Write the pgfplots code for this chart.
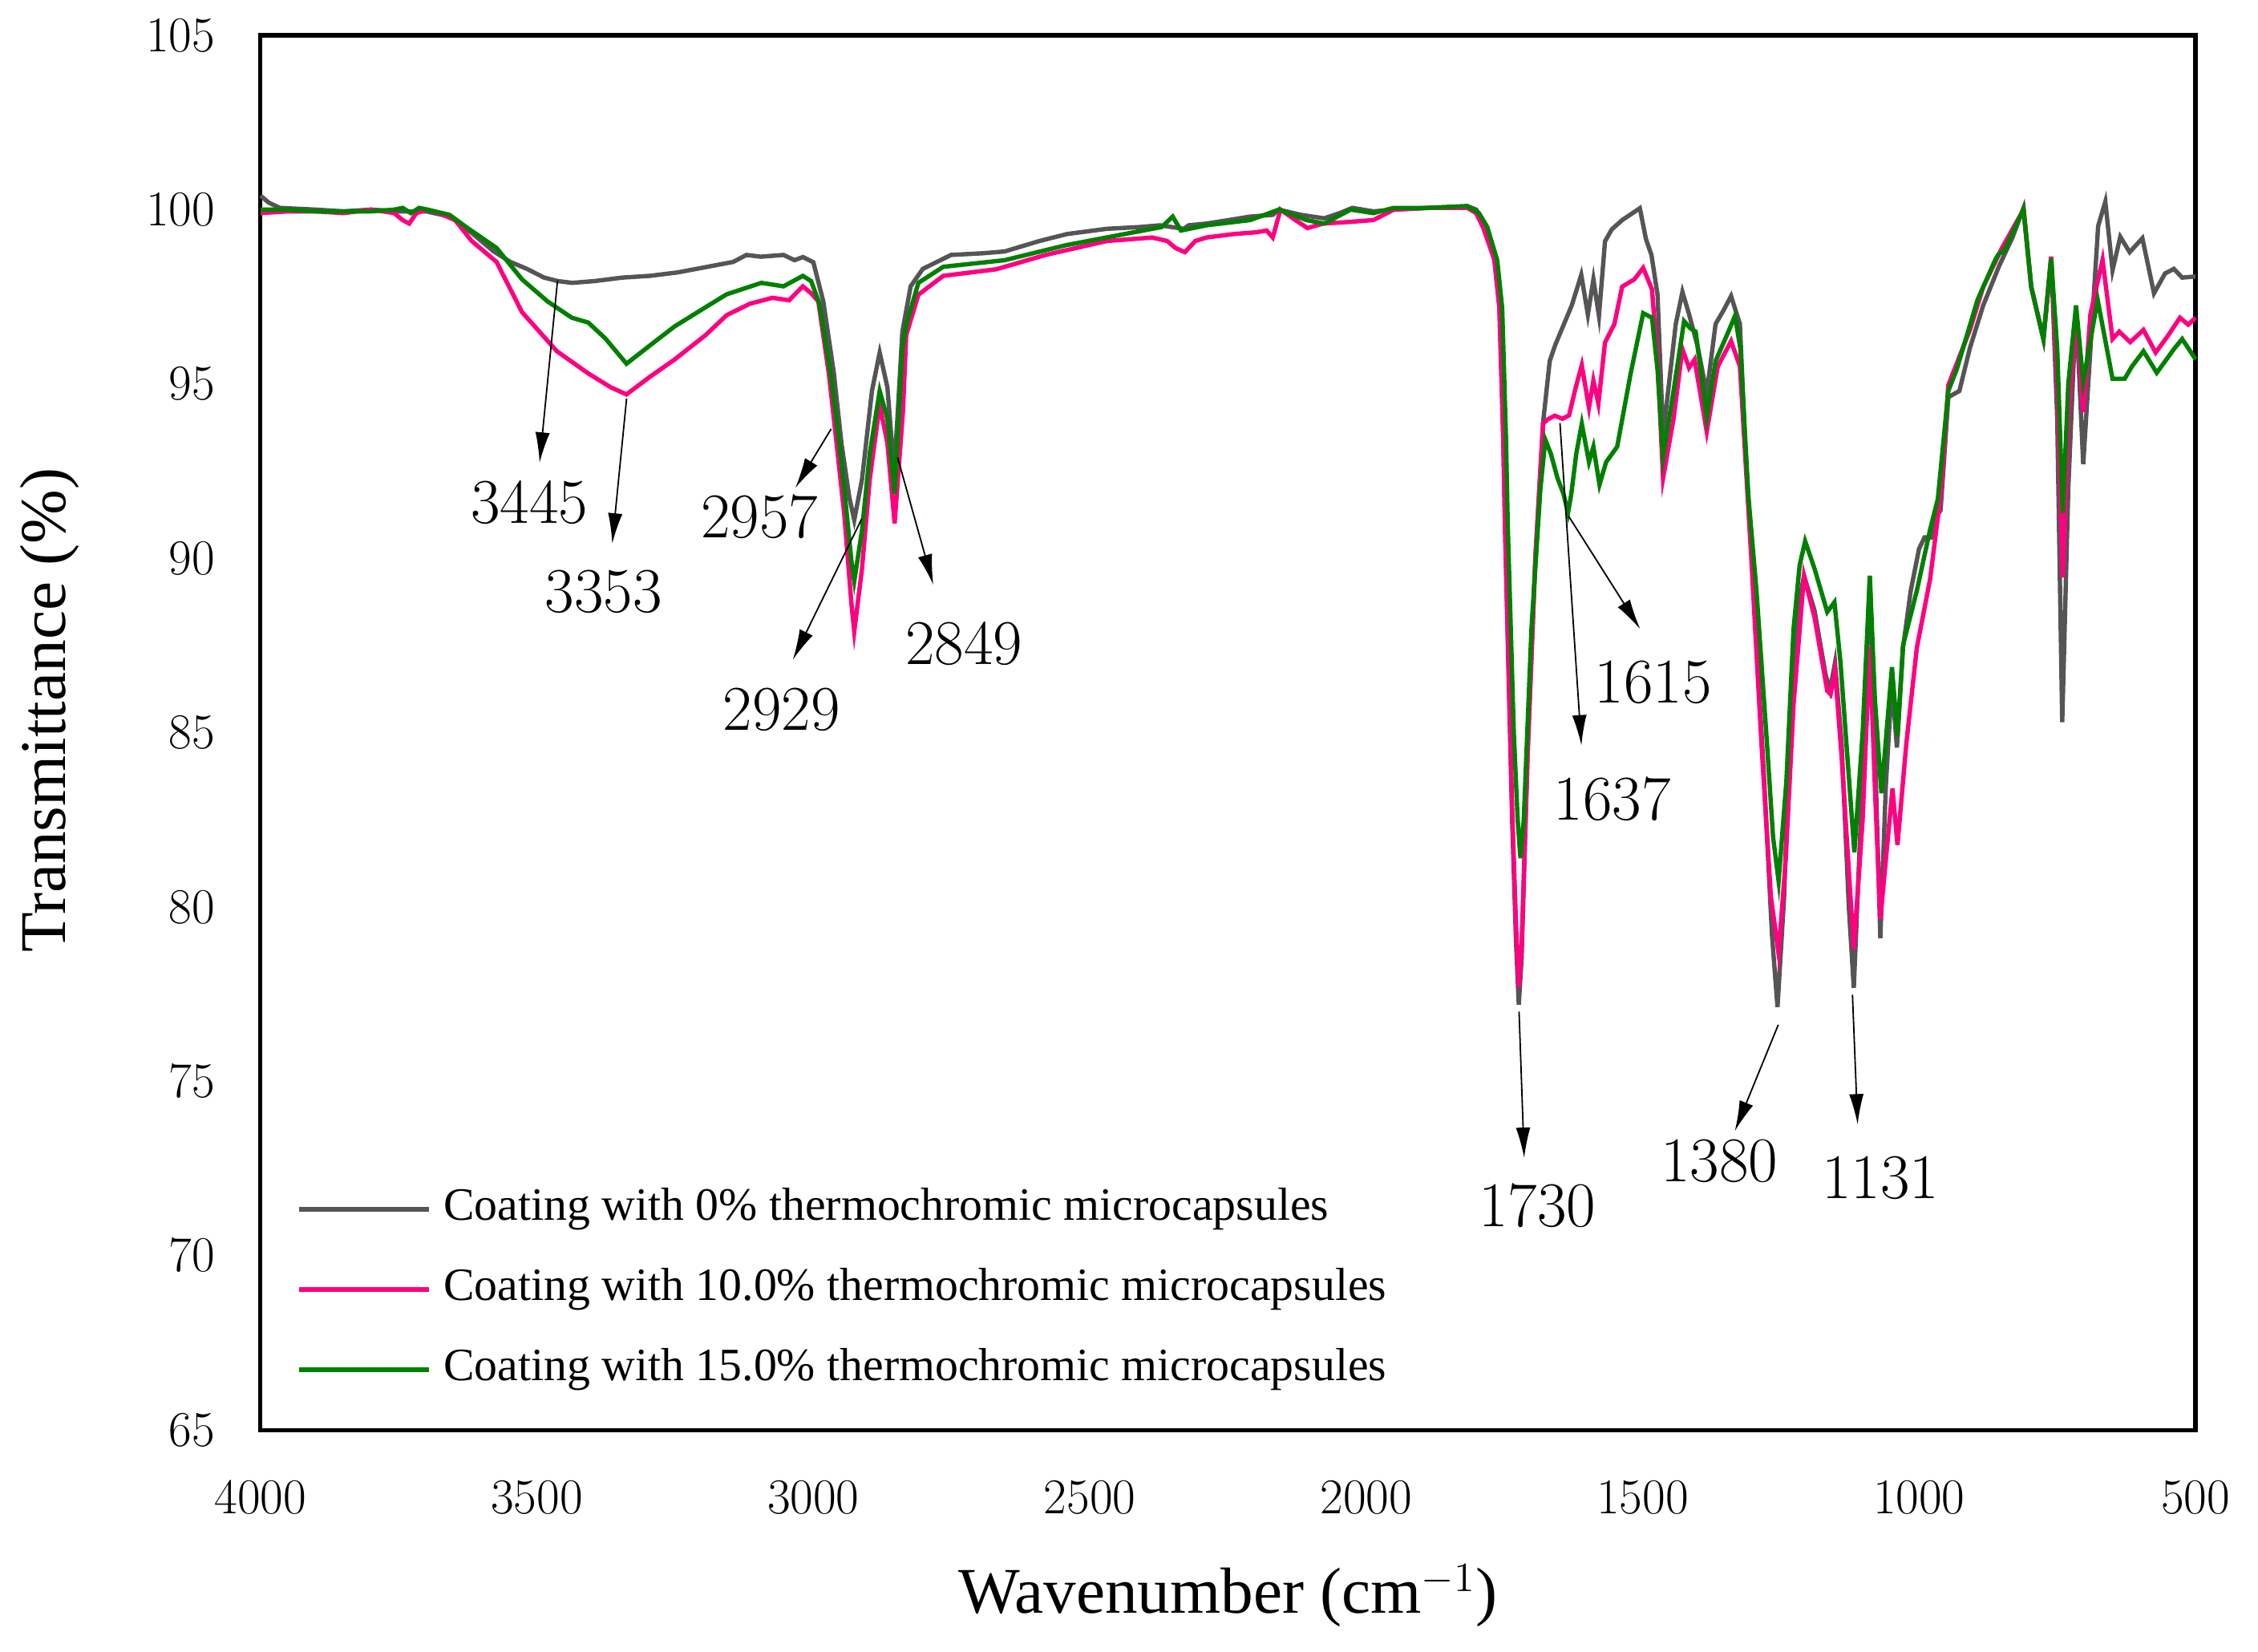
\documentclass[border=0pt]{standalone}
\usepackage{pgfplots}
\pgfplotsset{compat=1.18}
\usepackage{fontspec}
\newfontfamily\tnr{Liberation Serif}
\usetikzlibrary{arrows.meta}
\definecolor{cgray}{RGB}{85,85,85}
\definecolor{cpink}{RGB}{255,0,128}
\definecolor{cgreen}{RGB}{0,128,0}
\begin{document}
\begin{tikzpicture}
\begin{axis}[
  scale only axis, width=668.4pt, height=481.7pt,
  x dir=reverse, xmin=500, xmax=4000, ymin=65, ymax=105,
  xtick={500,1000,...,4000}, ytick={65,70,...,105},
  major tick length=0pt,
  axis line style={line width=1.4pt},
  clip=false,
  /pgf/number format/set thousands separator={},
  xticklabel style={font=\fontsize{18}{18}\selectfont, anchor=north, inner sep=0pt, yshift=-17.6pt},
  yticklabel style={font=\fontsize{18}{18}\selectfont, anchor=east, inner sep=0pt, xshift=-15.5pt},
  xlabel={Wavenumber (cm$^{-1}$)},
  ylabel={Transmittance (\%)},
  xlabel style={font=\fontsize{22.5}{27}\tnr, at={(axis description cs:0.5,-0.1312)}, anchor=base},
  ylabel style={font=\fontsize{22.5}{27}\tnr, at={(axis description cs:-0.1088,0.516)}, anchor=center},
  legend image code/.code={\draw[#1,line width=1.5pt] (0pt,0pt) -- (44.9pt,0pt);},
  legend cell align=left,
  legend style={draw=none, fill=none, inner sep=0pt, outer sep=0pt,
    at={(axis description cs:0.0187,0.028)}, anchor=south west,
    font=\fontsize{16}{19}\tnr, column sep=4.4pt, row sep=13.2pt,
    nodes={inner sep=0pt, text height=11pt, text depth=3.5pt}},
]
\coordinate (sw) at (axis description cs:0,0);
\coordinate (ne) at (axis description cs:1,1);
\addplot[cgray, line width=1.5pt] coordinates {
(4000,100.4) (3985,100.2) (3965,100.05) (3900,100.0) (3850,99.95) (3800,100.0) (3750,99.95) (3700,99.95)
(3658,99.8) (3638,99.6) (3608,99.2) (3578,98.8) (3548,98.5) (3518,98.3) (3487,98.05) (3462,97.95)
(3436,97.9) (3396,97.95) (3346,98.05) (3296,98.1) (3245,98.2) (3195,98.35) (3145,98.5) (3121,98.7)
(3095,98.65) (3054,98.7) (3034,98.55) (3019,98.64) (3000,98.49) (2982,97.37) (2963,95.32) (2949,93.28)
(2935,91.75) (2926,91.1) (2912,92.26) (2894,94.8) (2880,95.9) (2866,94.9) (2854,92.5) (2848,94.0)
(2839,96.5) (2824,97.8) (2802,98.3) (2751,98.7) (2692,98.75) (2654,98.8) (2591,99.1) (2541,99.3)
(2469,99.45) (2410,99.5) (2373,99.55) (2330,99.45) (2321,99.55) (2289,99.6) (2249,99.7) (2210,99.8)
(2169,99.85) (2158,100.0) (2118,99.85) (2076,99.75) (2048,99.9) (2025,100.05) (1987,99.95) (1950,100.0)
(1887,100.05) (1817,100.1) (1801,100.0) (1786,99.6) (1780,99.3) (1768,98.55) (1759,97.2) (1752,93.4)
(1749,91.0) (1736,82.5) (1729,79.0) (1724,77.2) (1719,78.5) (1708,84.4) (1694,90.0) (1680,93.9)
(1668,95.66) (1658,96.12) (1628,97.26) (1611,98.13) (1599,96.99) (1589,98.0) (1579,96.95) (1568,99.09)
(1556,99.43) (1537,99.7) (1505,100.04) (1494,99.16) (1484,98.7) (1473,97.56) (1463,93.52) (1440,96.72)
(1428,97.64) (1416,97.0) (1401,96.11) (1384,94.74) (1368,96.72) (1354,97.1) (1340,97.52) (1324,96.72)
(1315,93.44) (1299,89.06) (1280,83.59) (1266,79.2) (1256,77.13) (1244,80.3) (1232,85.78) (1220,88.5)
(1208,89.5) (1189,88.5) (1169,86.66) (1161,86.22) (1152,87.0) (1140,84.68) (1127,80.0) (1118,77.68)
(1104,83.0) (1089,89.5) (1080,84.68) (1070,79.1) (1060,83.5) (1049,86.44) (1040,84.57) (1029,87.43)
(1015,89.07) (1000,90.27) (990,90.6) (978,90.6) (966,91.25) (961,91.38) (947,94.62) (927,94.8)
(908,96.03) (884,97.25) (855,98.39) (831,99.2) (811,100.05) (797,97.78) (775,96.29) (761,98.65)
(750,94.0) (741,85.3) (730,92.0) (716,97.25) (703,92.7) (690,96.0) (676,99.53) (663,100.23)
(650,98.26) (636,99.22) (619,98.78) (596,99.18) (575,97.6) (555,98.17) (539,98.3) (524,98.05)
(502,98.08) (500,98.08)
};
\addlegendentry{Coating with 0\% thermochromic microcapsules}
\addplot[cpink, line width=1.5pt] coordinates {
(4000,99.9) (3950,99.95) (3900,99.95) (3850,99.9) (3800,100.0) (3758,99.9) (3743,99.7) (3731,99.6)
(3718,99.9) (3698,100.0) (3678,99.9) (3648,99.7) (3618,99.1) (3573,98.5) (3527,97.06) (3464,95.94)
(3407,95.3) (3366,94.9) (3338,94.7) (3296,95.2) (3251,95.7) (3195,96.4) (3157,96.97) (3115,97.3)
(3074,97.47) (3044,97.4) (3019,97.8) (3004,97.6) (2991,97.37) (2972,95.3) (2958,93.3) (2944,91.25)
(2931,88.68) (2926,87.9) (2912,89.7) (2898,92.26) (2880,94.4) (2866,93.3) (2853,91.0) (2838,94.2)
(2832,96.4) (2810,97.56) (2765,98.1) (2669,98.29) (2580,98.7) (2469,99.1) (2387,99.2) (2360,99.1)
(2345,98.9) (2328,98.78) (2309,99.1) (2289,99.2) (2239,99.3) (2199,99.35) (2180,99.4) (2169,99.2)
(2155,100.0) (2128,99.7) (2106,99.47) (2078,99.6) (2028,99.65) (1987,99.7) (1950,100.0) (1887,100.05)
(1817,100.05) (1801,99.9) (1788,99.47) (1768,98.55) (1759,97.18) (1752,93.37) (1749,91.0) (1736,82.8)
(1729,79.5) (1724,77.7) (1719,78.8) (1708,84.4) (1694,90.0) (1680,93.86) (1672,93.98) (1659,94.09)
(1645,94.0) (1633,94.1) (1621,94.9) (1610,95.54) (1597,94.32) (1589,95.1) (1580,94.43) (1568,96.19)
(1551,96.72) (1537,97.79) (1515,98.0) (1499,98.33) (1483,97.71) (1473,95.66) (1463,92.3) (1444,94.0)
(1428,96.0) (1416,95.46) (1406,95.7) (1384,93.63) (1364,95.5) (1340,96.23) (1324,95.5) (1304,90.16)
(1285,84.68) (1268,80.3) (1254,78.66) (1241,81.4) (1227,85.8) (1208,89.5) (1189,88.3) (1166,86.2)
(1160,86.1) (1152,86.8) (1140,84.3) (1118,78.78) (1102,82.5) (1089,87.48) (1080,83.5) (1070,79.65)
(1048,83.4) (1039,81.78) (1023,84.68) (1004,87.43) (980,89.4) (961,91.8) (947,94.97) (908,96.55)
(884,97.78) (850,98.9) (811,100.0) (797,97.78) (775,96.29) (761,98.65) (750,95.0) (740,89.45)
(730,94.0) (716,97.1) (703,94.19) (690,97.0) (668,98.56) (650,96.29) (638,96.5) (618,96.2)
(594,96.55) (572,95.9) (549,96.4) (528,96.9) (513,96.7) (500,96.9)
};
\addlegendentry{Coating with 10.0\% thermochromic microcapsules}
\addplot[cgreen, line width=1.5pt] coordinates {
(4000,100.0) (3950,100.0) (3900,99.95) (3850,99.95) (3800,99.95) (3758,100.0) (3743,100.05) (3728,99.9)
(3713,100.05) (3698,100.0) (3658,99.85) (3628,99.5) (3573,98.9) (3527,98.0) (3481,97.37) (3437,96.9)
(3407,96.76) (3376,96.3) (3338,95.58) (3296,96.1) (3251,96.65) (3195,97.2) (3157,97.57) (3094,97.9)
(3054,97.8) (3019,98.1) (3004,97.95) (2989,97.3) (2969,95.3) (2953,93.3) (2941,91.5) (2931,89.9)
(2926,89.35) (2912,90.8) (2898,93.0) (2880,94.8) (2866,94.0) (2853,91.85) (2839,96.0) (2832,96.7)
(2810,97.9) (2765,98.36) (2654,98.55) (2543,98.98) (2417,99.36) (2370,99.5) (2350,99.8) (2335,99.4)
(2289,99.55) (2210,99.7) (2158,100.0) (2108,99.7) (2076,99.6) (2028,100.0) (1987,99.9) (1950,100.05)
(1887,100.05) (1817,100.1) (1796,99.9) (1781,99.5) (1763,98.55) (1754,97.18) (1747,93.37) (1744,91.0)
(1733,85.0) (1726,82.5) (1721,81.4) (1715,82.5) (1701,88.0) (1685,91.97) (1676,93.4) (1666,93.0)
(1654,92.3) (1643,91.84) (1635,91.3) (1629,91.84) (1620,93.0) (1610,93.86) (1597,92.76) (1589,93.2)
(1578,92.11) (1566,92.76) (1546,93.2) (1522,95.27) (1499,97.03) (1483,96.9) (1473,95.4) (1463,92.91)
(1444,94.8) (1425,96.8) (1414,96.6) (1404,96.5) (1384,94.05) (1368,95.66) (1347,96.42) (1333,96.95)
(1323,96.0) (1309,91.84) (1294,89.06) (1275,84.68) (1264,82.0) (1254,80.74) (1240,83.59) (1227,87.97)
(1216,89.8) (1206,90.49) (1189,89.7) (1166,88.46) (1153,88.74) (1142,87.0) (1117,81.57) (1102,85.0)
(1089,89.5) (1080,86.0) (1068,83.26) (1049,86.88) (1039,84.9) (1029,87.5) (1004,89.07) (980,90.82)
(966,91.7) (947,94.8) (932,95.41) (894,97.42) (861,98.6) (855,98.74) (847,98.8) (811,100.0)
(797,97.78) (775,96.29) (761,98.6) (750,96.0) (740,91.3) (730,95.0) (716,97.25) (703,95.06)
(677,97.42) (650,95.15) (628,95.15) (615,95.5) (594,95.94) (570,95.32) (538,96.02) (524,96.29)
(502,95.76) (500,95.7)
};
\addlegendentry{Coating with 15.0\% thermochromic microcapsules}
% annotations
\tikzset{ann/.style={-{Latex[length=10.5pt,width=5pt]}, line width=0.5pt, black}}
\draw[ann] (axis cs:3462.7,97.97) -- (axis cs:3495.2,92.74);
\draw[ann] (axis cs:3337.8,94.58) -- (axis cs:3363.8,90.42);
\draw[ann] (axis cs:2967.8,93.71) -- (axis cs:3032.5,92.02);
\draw[ann] (axis cs:2912.2,91.14) -- (axis cs:3037.1,87.09);
\draw[ann] (axis cs:2847.6,92.89) -- (axis cs:2783,89.24);
\draw[ann] (axis cs:1633.9,91.21) -- (axis cs:1504.4,87.97);
\draw[ann] (axis cs:1649.5,93.88) -- (axis cs:1610.7,84.63);
\draw[ann] (axis cs:1723.5,77.0) -- (axis cs:1714.2,72.8);
\draw[ann] (axis cs:1254.6,76.62) -- (axis cs:1333.2,73.57);
\draw[ann] (axis cs:1120.4,77.48) -- (axis cs:1111.1,73.76);
\tikzset{lab/.style={font=\fontsize{22}{22}\selectfont, inner sep=0pt}}
\node[lab] at (axis cs:3513.6,91.6) {3445};
\node[lab] at (axis cs:3379.5,89.04) {3353};
\node[lab] at (axis cs:3097.3,91.19) {2957};
\node[lab] at (axis cs:3057.6,85.67) {2929};
\node[lab] at (axis cs:2727.3,87.55) {2849};
\node[lab] at (axis cs:1481.1,86.44) {1615};
\node[lab] at (axis cs:1555.1,83.1) {1637};
\node[lab] at (axis cs:1690.7,71.43) {1730};
\node[lab] at (axis cs:1360.9,72.71) {1380};
\node[lab] at (axis cs:1069.5,72.23) {1131};
\end{axis}
\pgfresetboundingbox
\path ([shift={(-90pt,-76.7pt)}]sw) rectangle ([shift={(21.6pt,12.2pt)}]ne);
\end{tikzpicture}
\end{document}
